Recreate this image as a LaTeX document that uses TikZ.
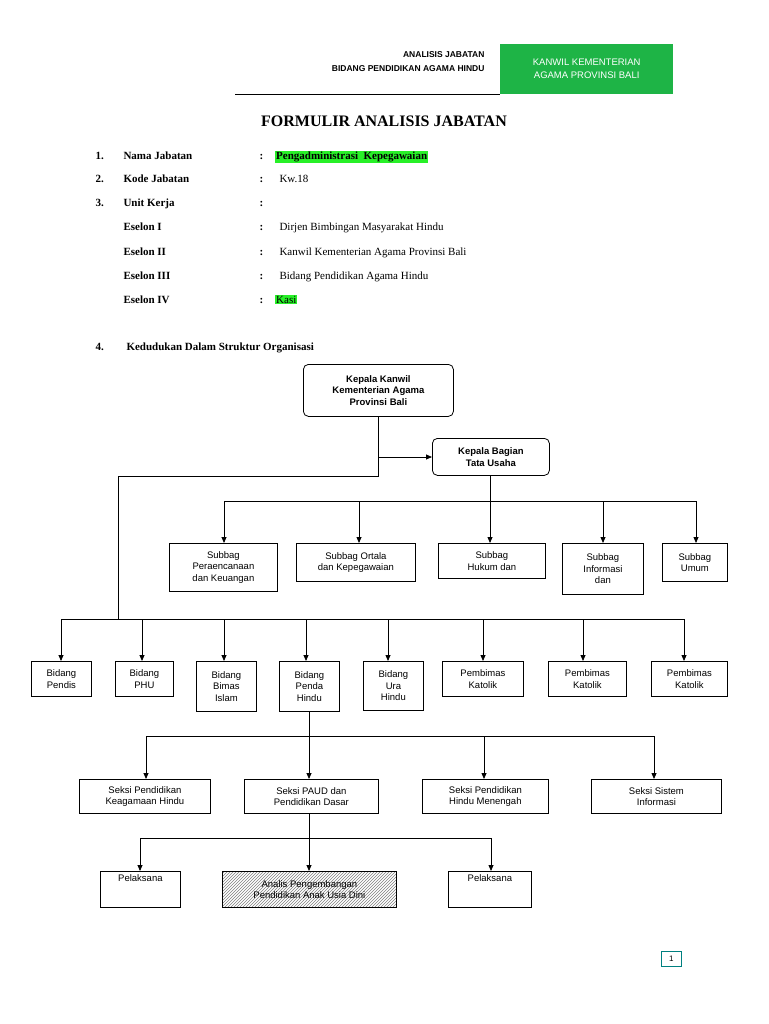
\documentclass[tikz,border=0pt]{standalone}
\usepackage{fontspec}
\setmainfont{Liberation Serif}
\newfontfamily\sans{Liberation Sans}
\usetikzlibrary{arrows.meta,patterns}
\definecolor{kgreen}{RGB}{30,180,70}
\definecolor{hl}{RGB}{40,240,40}
\begin{document}
\begin{tikzpicture}[x=1pt,y=-1pt,
 box/.style={draw,thick,anchor=north west,inner sep=1pt,font=\sans\fontsize{9.5}{11.5}\selectfont,align=center},
 rbox/.style={box,rounded corners=5pt,font=\sans\bfseries\fontsize{9.5}{11.5}\selectfont},
 ln/.style={thick},
 arr/.style={thick,-{Triangle[length=6pt,width=5pt]}},
 ft/.style={anchor=base west,font=\fontsize{11}{13}\selectfont},
 fb/.style={ft,font=\bfseries\fontsize{11}{13}\selectfont}]
\useasboundingbox (0,0) rectangle (768,1024);
% header
\node[anchor=base east,font=\sans\bfseries\fontsize{8.5}{10}\selectfont] (h1) at (488,58) {ANALISIS JABATAN};
\node[anchor=base east,font=\sans\bfseries\fontsize{8.5}{10}\selectfont] (h2) at (488,72) {BIDANG PENDIDIKAN AGAMA HINDU};
\draw (235,94) -- (500,94);
\node[fill=kgreen,anchor=north west,minimum width=173,minimum height=50,inner sep=0,text=white,align=center,font=\sans\fontsize{9.5}{13}\selectfont] (g) at (500,44) {KANWIL KEMENTERIAN\\AGAMA PROVINSI BALI};
\node[font=\bfseries\fontsize{16}{18}\selectfont] (title) at (384,121) {FORMULIR ANALISIS JABATAN};
% form
\foreach \y/\n/\l in {160/1./Nama Jabatan,183/2./Kode Jabatan,207/3./Unit Kerja}{
 \node[fb] at (92,\y) {\n}; \node[fb] at (120,\y) {\l}; \node[fb] at (256,\y) {:};}
\foreach \y/\l in {231/Eselon I,255/Eselon II,279/Eselon III,303/Eselon IV}{
 \node[fb] at (120,\y) {\l}; \node[fb] at (256,\y) {:};}
\node[fb,fill=hl,inner sep=1pt] at (275,160) {Pengadministrasi\ \ Kepegawaian};
\node[ft] at (276,183) {Kw.18};
\node[ft] at (276,231) {Dirjen Bimbingan Masyarakat Hindu};
\node[ft] at (276,255) {Kanwil Kementerian Agama Provinsi Bali};
\node[ft] at (276,279) {Bidang Pendidikan Agama Hindu};
\node[ft,fill=hl,inner sep=1pt] at (275,303) {Kasi};
\node[fb] at (92,350) {4.}; \node[fb] at (123,350) {Kedudukan Dalam Struktur Organisasi};
% chart
\node[rbox,minimum width=150,minimum height=52] (kw) at (303,364) {Kepala Kanwil\\Kementerian Agama\\Provinsi Bali};
\node[rbox,minimum width=117,minimum height=37] (tu) at (432,438) {Kepala Bagian\\Tata Usaha};
\coordinate (k1) at (378,457); \coordinate (k2) at (378,476); \coordinate (k3) at (118,476); \coordinate (b2) at (118,619);
\draw[ln] (kw.south -| k1) -- (k2) -- (k3) -- (b2);
\draw[arr] (k1) -- (tu.west |- k1);
\node[box,minimum width=108,minimum height=48] (s1) at (169,543) {Subbag\\Peraencanaan\\dan Keuangan};
\node[box,minimum width=119,minimum height=38] (s2) at (296,543) {Subbag Ortala\\dan Kepegawaian};
\node[box,minimum width=107,minimum height=35] (s3) at (438,543) {Subbag\\Hukum dan};
\node[box,minimum width=81,minimum height=51] (s4) at (562,543) {Subbag\\Informasi\\dan};
\node[box,minimum width=65,minimum height=38] (s5) at (662,543) {Subbag\\Umum};
\coordinate (t1) at (490,501);
\draw[ln] (tu.south -| t1) -- (t1);
\draw[ln] (224,501) -- (696,501);
\foreach \n/\x in {s1/224,s2/359,s3/490,s4/603,s5/696} \draw[arr] (\x,501) -- (\n.north -| \x,0);
% bidang
\draw[ln] (61,619) -- (684,619);
\node[box,minimum width=60,minimum height=35] (d1) at (31,661) {Bidang\\Pendis};
\node[box,minimum width=58,minimum height=35] (d2) at (115,661) {Bidang\\PHU};
\node[box,minimum width=60,minimum height=50] (d3) at (196,661) {Bidang\\Bimas\\Islam};
\node[box,minimum width=60,minimum height=50] (d4) at (279,661) {Bidang\\Penda\\Hindu};
\node[box,minimum width=60,minimum height=49] (d5) at (363,661) {Bidang\\Ura\\Hindu};
\node[box,minimum width=81,minimum height=35] (d6) at (442,661) {Pembimas\\Katolik};
\node[box,minimum width=78,minimum height=35] (d7) at (548,661) {Pembimas\\Katolik};
\node[box,minimum width=76,minimum height=35] (d8) at (651,661) {Pembimas\\Katolik};
\foreach \n/\x in {d1/61,d2/142,d3/224,d4/306,d5/388,d6/483,d7/583,d8/684} \draw[arr] (\x,619) -- (\n.north -| \x,0);
% seksi
\node[box,minimum width=131,minimum height=34] (e1) at (79,779) {Seksi Pendidikan\\Keagamaan Hindu};
\node[box,minimum width=134,minimum height=34] (e2) at (244,779) {Seksi PAUD dan\\Pendidikan Dasar};
\node[box,minimum width=126,minimum height=34] (e3) at (422,779) {Seksi Pendidikan\\Hindu Menengah};
\node[box,minimum width=130,minimum height=34] (e4) at (591,779) {Seksi Sistem\\Informasi};
\draw[ln] (d4.south -| 309,0) -- (309,736);
\draw[ln] (146,736) -- (654,736);
\foreach \n/\x in {e1/146,e2/309,e3/484,e4/654} \draw[arr] (\x,736) -- (\n.north -| \x,0);
% pelaksana
\node[box,minimum width=80,minimum height=36,anchor=north west] (p1) at (100,871) {};
\node[anchor=north,font=\sans\fontsize{9.5}{11.5}\selectfont] at (p1.north) {Pelaksana};
\node[box,minimum width=174,minimum height=36,pattern=north east lines,pattern color=gray] (p2) at (222,871) {Analis Pengembangan\\Pendidikan Anak Usia Dini};
\node[box,minimum width=83,minimum height=36] (p3) at (448,871) {};
\node[anchor=north,font=\sans\fontsize{9.5}{11.5}\selectfont] at (p3.north) {Pelaksana};
\draw[ln] (e2.south -| 309,0) -- (309,838);
\draw[ln] (140,838) -- (491,838);
\foreach \n/\x in {p1/140,p2/309,p3/491} \draw[arr] (\x,838) -- (\n.north -| \x,0);
% page number
\node[draw=teal,thick,anchor=north west,minimum width=20,minimum height=15,inner sep=0,font=\sans\fontsize{8}{9}\selectfont] (pg) at (661,951) {1};
\end{tikzpicture}
\end{document}
